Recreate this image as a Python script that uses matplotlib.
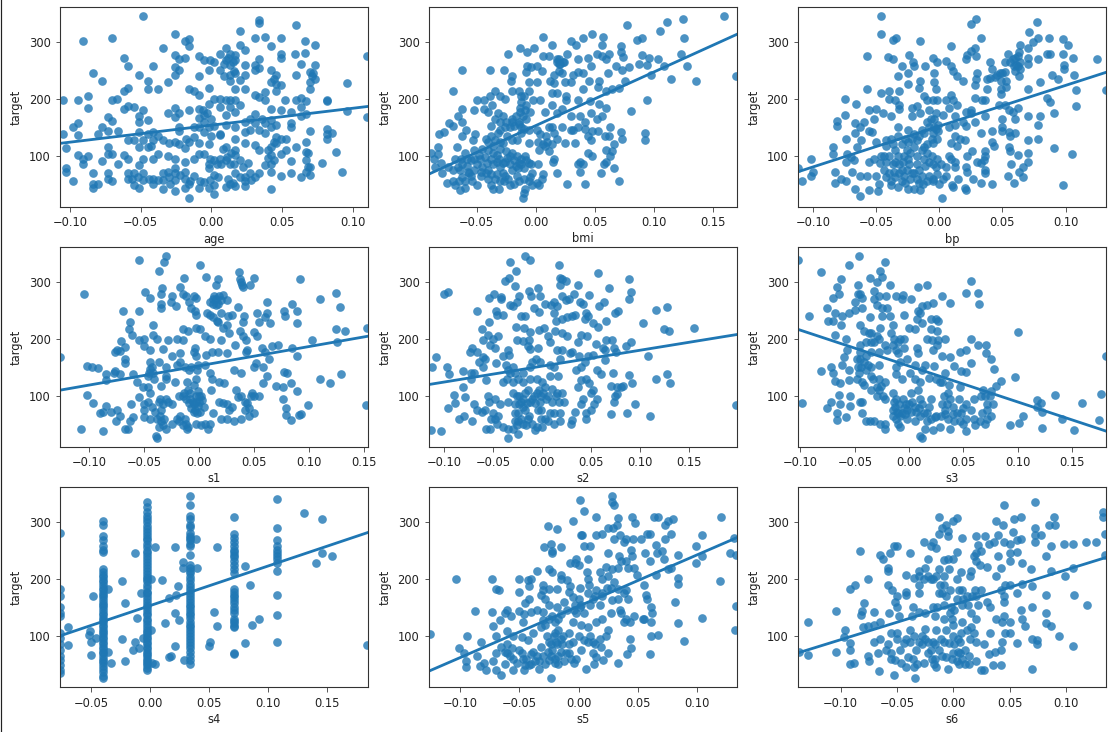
import matplotlib
matplotlib.use('Agg')
import matplotlib.pyplot as plt
from matplotlib.lines import Line2D
from matplotlib.ticker import MultipleLocator

# points are (x in thousandths, target)
age_pts = [(-48,346),(-91,302),(-70,308),(-62,273),(-59,258),(-84,245),(-77,231),(-87,205),(-94,199),(-105,199),(-87,185),(-73,168),(-70,162),(-67,200),(-70,199),(-62,215),(-59,220),(-51,242),(-45,231),(-41,258),(-45,218),(-38,218),(-34,290),(-26,315),(-19,303),(-16,306),(-16,293),(-26,277),(-23,271),(-19,273),(-26,257),(-26,242),(-23,251),(-31,230),(-9,275),(-5,269),(-1,268),(2,265),(-2,251),(-9,240),(-16,217),(-12,214),(-9,207),(-2,220),(10,290),(6,280),(13,280),(17,277),(17,268),(10,268),(13,260),(6,251),(13,242),(17,245),(13,232),(20,320),(20,295),(24,286),(24,260),(31,308),(38,310),(34,339),(34,334),(42,293),(49,308),(60,330),(66,302),(73,295),(59,280),(66,281),(49,280),(49,273),(63,262),(73,260),(70,248),(73,236),(60,242),(70,230),(70,218),(110,275),(96,229),(82,199),(82,196),(110,168),(96,179),(60,199),(63,201),(67,196),(63,186),(52,199),(42,251),(46,242),(46,227),(46,215),(49,224),(38,213),(31,207),(34,204),(38,199),(24,242),(24,218),(20,233),(17,218),(31,260),(31,251),(34,271),(34,254),
(2,200),(6,200),(10,199),(13,199),(17,199),(6,186),(20,189),(13,186),(17,177),(10,172),(-2,192),(-9,183),(-5,172),(-9,166),(-5,160),(-9,151),(-2,151),(2,152),(10,154),(17,151),(-26,185),(-23,175),(-31,175),(-26,169),(-16,180),(-23,151),(-23,144),(-48,180),(-51,171),(-51,160),(-45,163),(-55,186),(-59,187),(-62,183),(-41,142),(-45,139),(-51,142),(-66,144),(-73,144),(-77,151),(-80,138),(-94,158),(-98,151),(-94,136),(-105,138),(-103,113),
(-59,128),(-55,128),(-48,128),(-41,128),(-34,128),(-45,116),(-51,116),(-73,116),(-73,104),(-70,104),(-94,101),(-87,100),(-91,95),(-91,86),(-77,91),(-66,86),(-62,101),(-59,95),(-51,84),(-48,95),(-41,95),(-38,104),(-31,100),(-26,95),(-26,125),(-23,120),(-19,113),(-16,125),(-9,123),(-2,120),(10,116),(17,110),(24,122),(31,119),(34,110),
(-2,86),(2,92),(6,95),(10,92),(13,86),(17,101),(20,92),(4,86),(7,86),(11,98),(-5,104),(-9,104),(-12,95),(-19,89),(-2,78),
(-103,78),(-103,72),(-98,55),(-84,70),(-84,51),(-84,43),(-80,51),(-73,69),(-73,60),(-70,55),(-59,69),(-55,70),(-59,60),(-55,48),(-51,43),(-48,69),(-48,57),(-41,51),(-41,60),(-34,69),(-34,57),(-34,41),(-26,78),(-26,69),(-26,57),(-26,38),(-19,72),(-19,60),(-19,43),(-16,51),(-16,25),(-12,64),(-9,43),(-5,54),(-2,43),(2,66),(2,48),(2,32),(10,45),(13,51),(17,69),(17,47),(24,63),(24,47),(27,69),(31,63),(34,69),(42,41),(42,72),(38,84),(42,86),(49,64),(56,70),(56,91),(63,63),(67,72),(70,66),(70,81),(67,92),(67,107),(67,125),(70,143),(78,88),(88,107),(92,71),(82,130),(82,148),(85,140),(82,139),
(46,133),(49,130),(53,130),(46,122),(42,116),(42,101),(49,104),(53,110),(60,116),(56,157),(56,151),(63,171),(67,173),(56,177),(49,180),(42,183),(42,163),(38,157),(31,157),(31,174),(27,145),(34,145),(24,142),(17,129),(6,136),(6,139),(-5,142),(-12,133),
(-30,62),(-29,50),(-22,66),(-15,55),(-8,56),(-1,58),(5,62),(12,60),(15,52),(20,62),(24,55),(28,58),(-44,60),(-38,58),(-31,72),(-52,62),(-56,60),(40,96),(44,92),(40,110),(44,125),(38,140),(42,150),(46,155),(36,165),(27,165),(24,160),(0,165),(-3,175),(-6,180),(-12,150),(-18,130),(-30,122),(-38,135),(-43,118),(0,135),(8,112),(14,105),(16,85),(-1,95),(22,80),(26,88),(44,235),(42,230),(71,240),(72,245),(68,105),(68,80),(9,262),(12,272),(15,265),(16,250),(9,240)]

bmi_pts = [(160,346),(136,232),(170,241),(128,258),(126,308),(125,340),(123,280),(111,335),(105,320),(115,236),(109,258),(104,270),(98,242),(96,273),(94,260),(94,199),(93,140),(93,128),(90,308),(90,278),(86,304),(88,262),(77,331),(79,256),(76,232),(81,179),(72,293),(72,283),(72,142),(71,55),(73,130),(73,251),(74,274),(68,258),(66,78),(71,220),(65,218),(60,215),(63,150),(62,135),(66,120),(65,108),(60,110),(63,100),(60,90),(58,85),(55,70),(59,135),(56,275),(60,270),(57,310),(56,295),(62,280),(61,245),(48,315),(40,308),(30,303),(34,295),(27,280),(23,265),(20,270),(18,265),(36,270),(47,258),(44,272),(52,280),(45,232),(54,232),(53,222),(40,218),(40,245),(36,248),(32,243),(25,230),(16,243),(20,250),(12,232),(14,210),
(6,310),(14,295),(-13,290),(-23,280),(-7,282),(-1,290),(6,275),(11,276),(-4,256),(-7,258),(-8,247),(1,258),(5,250),(-20,240),(-21,232),(-27,251),(-39,251),(-62,251),(-70,215),(-6,230),(1,230),(-20,215),(-34,215),(-14,215),(-6,215),(-44,199),(-30,205),(-26,200),(-39,206),(-37,190),(-12,205),(-12,195),(-8,190),(-2,199),(4,198),(-9,180),(-13,178),(-5,178),(8,178),(14,190),(18,210),(16,228),(18,175),(22,182),(26,198),(36,198),(46,196),(54,192),(60,185),(56,170),(52,165),(47,175),(42,160),(38,170),(30,170),
(-50,199),(-52,180),(-62,183),(-44,182),(-40,178),(-66,170),(-62,160),(-73,158),(-70,153),(-82,138),(-78,142),(-59,145),(-62,135),(-51,138),(-53,128),(-83,115),(-67,115),(-38,153),(-34,165),(-32,175),(-28,170),(-25,160),(-20,165),(-17,170),(-18,152),(-22,150),(-14,156),(-12,150),(-6,145),(1,145),(4,138),(9,135),(11,150),(16,140),(18,130),(14,120),(25,122),(33,122),(30,145),(36,150),(42,147),(44,135),(48,143),(53,143),(47,128),(32,145),(-32,140),(-38,135),(-40,125),(-34,128),(-28,122),(-16,128),(-6,122),(2,125),(8,118),(3,110),(11,108),(16,95),(15,90),(18,70),(27,51),(42,51),(44,105),(48,100),(38,90),(36,85),(40,85),(38,72),
(-89,105),(-83,103),(-86,95),(-80,88),(-85,80),(-79,70),(-75,52),(-70,75),(-74,80),(-68,95),(-60,105),(-52,110),(-45,112),(-40,110),(-36,105),(-30,112),(-25,108),(-20,105),(-16,100),(-12,95),(-8,92),(-4,85),(2,85),(-63,95),(-62,85),(-64,75),(-62,62),(-60,55),(-70,55),(-68,48),(-64,40),(-60,43),(-50,48),(-52,75),(-50,85),(-47,95),(-45,80),(-42,70),(-40,75),(-36,85),(-33,90),(-30,80),(-28,70),(-26,90),(-22,85),(-20,75),(-17,82),(-14,88),(-10,78),(-34,60),(-38,48),(-36,42),(-31,42),(-27,55),(-22,48),(-18,50),(-14,55),(-10,60),(-6,55),(-3,48),(-9,42),(-10,35),(-11,25),(5,60),(6,68),(-3,70),(-5,62),(3,48),(1,53),(-40,60),(-46,65),(-33,68),(-55,65),(-57,72),(-66,80),
(-55,92),(-58,82),(-56,70),(-48,102),(-43,98),(-41,88),(-38,95),(-33,102),(-31,95),(-28,88),(-24,96),(-22,100),(-18,92),(-15,78),(-12,85),(-9,100),(-6,88),(-30,125),(-36,118),(-42,130),(-24,135),(-20,128),(-26,150),(-30,160),(-30,145),(-23,60),(-26,65),(-30,55),(-16,65),(-65,55),(-54,55),(-58,95),(-52,95),(-46,72),(-38,68),(-20,160),(-8,165),(-11,170),(-14,160),(-10,205),(-13,185),(18,270),(21,262),(22,245),(26,205),(30,230),(6,120),(10,125),(22,150),(14,150),(24,265),(20,262),(-10,148),(-12,140)]

bp_pts = [(-46,346),(-46,315),(-37,304),(-34,308),(-15,302),(9,293),(25,332),(29,340),(33,308),(28,290),(25,285),(22,278),(21,270),(29,275),(-57,275),(-41,274),(-37,271),(-24,278),(-21,265),(-30,258),(-20,258),(-11,258),(-25,246),(-33,241),(-5,272),(-2,266),(5,267),(9,258),(11,250),(14,240),(19,232),(-4,245),(-4,230),(-15,232),(-16,220),(-3,218),(-25,226),(-57,218),(-46,211),(-40,214),(-32,214),(-40,200),(-35,199),(-32,190),(-32,182),(-75,200),(-66,192),(-75,172),(-81,162),(-81,152),(-56,180),(-50,182),(-45,175),(-38,170),(-52,165),(-60,160),(-67,157),(-63,150),(-67,140),(-56,143),(-53,142),(-74,130),(-62,128),(-50,125),(-42,118),(-84,115),(-65,115),(-84,103),(-73,103),(-70,98),(-74,90),(-68,92),(-102,95),(-112,78),(-100,72),(-109,55),(-102,65),(-83,71),(-83,52),(-78,60),(-74,55),(-69,72),(-67,42),(-63,30),(-63,65),(-57,65),(-56,40),(-49,38),(-48,50),(-50,65),(-56,90),(-52,95),(-46,100),
(-12,205),(-10,199),(-5,199),(-2,198),(5,199),(9,207),(11,198),(14,190),(-22,185),(-18,188),(-15,175),(-22,170),(-8,180),(-3,175),(3,172),(8,185),(12,170),(21,178),(25,180),(28,202),(34,199),(36,198),(36,170),(28,160),(21,152),(12,155),(8,150),(-4,165),(-8,150),(-3,148),(-5,140),(-1,143),(-12,140),(-16,135),(-20,138),(-25,145),(-33,150),(-33,135),(-38,130),(-42,128),(-25,125),(-20,115),(-12,115),(-5,122),(9,122),(12,135),(16,130),(20,128),(14,118),(33,140),(42,143),(42,125),(43,118),(55,142),(56,135),(55,115),(56,108),(62,102),(57,85),(54,65),(59,52),(63,72),(66,80),(66,62),(42,51),(33,53),(36,70),(36,75),(36,100),(36,108),(30,90),(33,88),(35,92),(22,100),(26,108),(27,60),(22,72),(21,80),(20,43),(21,40),
(-40,100),(-35,90),(-36,72),(-40,70),(-38,55),(-38,48),(-33,45),(-30,55),(-27,52),(-25,42),(-20,42),(-16,52),(-15,40),(-10,55),(-5,60),(-5,55),(0,50),(2,25),(5,65),(5,80),(10,48),(11,45),(12,80),(15,60),(8,100),(9,95),(12,90),(-28,100),(-25,95),(-24,85),(-26,75),(-22,70),(-18,85),(-16,75),(-12,95),(-10,105),(-8,90),(-5,85),(-3,80),(-30,75),(-32,85),(-37,85),
(40,265),(42,252),(48,245),(50,245),(40,237),(38,235),(30,245),(29,235),(28,225),(38,218),(49,231),(53,232),(53,222),(49,218),(49,208),(47,190),(52,190),(55,180),(58,178),(60,165),(62,185),(50,165),(50,150),(50,143),(60,140),(54,280),(52,265),(58,270),(62,275),(63,282),(64,295),(59,258),(62,258),(64,252),(63,240),(70,262),(70,272),(70,290),(71,318),(74,300),(78,307),(77,335),(87,308),(78,270),(85,280),(88,280),(89,242),(98,305),(102,295),(98,280),(99,260),(99,253),(94,236),(106,273),(107,243),(125,270),(132,216),(108,216),(108,188),(91,175),(88,195),(85,202),(80,230),(70,217),(80,170),(78,155),(70,170),(78,130),(70,128),(91,113),(105,103),(98,49),(70,105),(70,90),
(-42,90),(-44,75),(-42,62),(-35,62),(-32,70),(-28,65),(-29,90),(-26,110),(-27,130),(-22,130),(-23,105),(-23,60),(-20,70),(-18,100),(-14,110),(-14,65),(-11,82),(-8,65),(-6,100),(-2,95),(-2,68),(1,85),(3,60),(-10,120),(-18,60),(-13,50),(-35,110),(-33,100),(-44,100),(-37,120),(-30,120),(-47,88),(-4,150),(-6,130),(-2,130),(-7,165),(-1,155),(-18,128),(-14,145),(-10,160),(61,260),(60,250),(56,265),(64,265),(60,272),(52,248),(46,242),(44,238),(19,160),(25,175)]

s1_pts = [(-55,340),(-37,320),(-32,335),(-30,346),(1,330),(6,310),(-14,308),(-17,292),(17,305),(15,295),(36,318),(37,305),(38,300),(39,295),(40,292),(50,308),(46,295),(92,306),(125,281),(110,270),(128,257),(-105,279),(-45,272),(-49,282),(-35,280),(-34,290),(-35,255),(-35,262),(-25,275),(-26,265),(-21,258),(-15,280),(-12,275),(-5,275),(-3,272),(-9,265),(-7,255),(-4,250),(-3,242),(-69,250),(-55,250),(-63,230),(-64,218),(-61,208),(-42,224),(-3,220),(-15,218),(-10,215),(1,217),(10,265),(13,270),(15,260),(18,275),(22,277),(25,268),(7,245),(10,243),(13,238),(17,230),(22,220),(26,240),(30,243),(25,225),(27,210),(35,257),(41,240),(40,230),(37,215),(40,205),(43,198),(53,245),(62,265),(55,230),(62,246),(60,238),(65,228),(77,250),(78,240),(85,262),(89,250),(89,228),(125,217),(133,215),(153,220),(103,199),(126,195),(85,185),(89,170),(72,190),(66,188),(60,178),(57,184),(64,165),(58,150),(50,150),(52,158),(53,205),(50,212),
(-72,179),(-77,178),(-75,180),(-71,197),(-68,186),(-68,165),(-68,157),(-55,198),(-50,200),(-50,188),(-45,180),(-42,207),(-38,200),(-33,182),(-28,198),(-20,200),(-15,198),(-17,175),(-25,170),(-17,160),(-5,178),(-4,185),(-3,170),(5,205),(10,200),(6,172),(12,178),(20,198),(17,178),(25,175),(33,190),(32,145),(38,140),(43,178),(44,180),(-45,160),(-43,150),(-42,140),(-46,140),(-37,160),(-30,135),(-20,155),(-13,150),(-7,150),(-2,145),(5,155),(10,140),(12,130),(18,125),(23,122),(-127,169),(-102,152),(-98,150),(-92,149),(-85,138),(-85,128),(-78,140),(-77,143),(-72,138),(-60,139),(-57,125),(-51,115),(-47,115),(-35,118),(-30,130),(-22,125),(-11,125),(-5,120),(70,118),(76,116),(84,122),(77,142),(80,140),(62,135),(58,122),(110,130),(119,122),(129,138),(152,84),(89,108),(76,95),(79,78),(79,66),(84,58),(91,67),(93,68),(99,84),
(-102,102),(-97,88),(-85,83),(-90,70),(-88,71),(-80,72),(-75,75),(-72,65),(-76,55),(-68,42),(-65,42),(-62,85),(-63,55),(-60,63),(-55,98),(-50,85),(-50,75),(-50,62),(-45,105),(-43,80),(-37,90),(-35,75),(-38,60),(-37,45),(-39,30),(-38,25),(-32,60),(-30,95),(-25,85),(-25,50),(-20,60),(-17,65),(-15,100),(-12,50),(-11,42),(-10,110),(-8,95),(-5,85),(-3,100),(-4,75),(0,90),(-2,70),(2,100),(4,80),(-3,50),(2,48),(5,50),(10,50),(8,42),(11,110),(13,70),(18,90),(20,60),(25,85),(25,60),(30,80),(32,55),(38,100),(34,110),(38,60),(42,90),(45,65),(48,105),(50,70),(50,100),(55,100),(45,78),(-108,41),(-88,38),
(-8,105),(-6,90),(-1,82),(-3,90),(-5,72),(-7,78),(-1,108),(1,72),(0,100),(3,92),(-9,88),(-12,95),(-14,105),(-18,100),(-28,90),(-33,85),(-36,95),(-35,55),(-33,48),(-30,42),(-36,65),(-40,72),(-45,60),(-47,90),(-18,55),(-15,48),(-13,60),(-10,45),(-30,150),(-45,148),(-47,135),(-41,130),(-3,130),(-1,155),(-9,145),(15,270),(17,262),(13,262),(20,268),(14,275),(16,232),(20,245),(47,100),(44,88),(42,75),(35,98),(22,88),(27,75)]

s2_pts = [(-18,346),(-12,340),(-33,335),(-27,320),(-34,308),(-38,302),(-28,294),(17,330),(18,308),(20,305),(24,302),(18,295),(57,316),(37,295),(48,278),(68,290),(89,306),(91,282),(89,270),(-100,279),(-96,282),(-54,273),(-49,280),(-42,274),(-42,270),(-24,275),(-14,285),(-11,275),(-4,290),(-2,275),(-33,260),(-30,258),(-26,265),(-8,255),(-3,247),(-40,243),(-47,250),(-46,243),(-67,250),(-54,230),(-61,218),(-27,222),(-19,219),(-12,213),(-3,216),(2,220),(-22,240),(-18,240),(3,262),(9,260),(12,265),(15,258),(12,245),(14,232),(20,235),(25,238),(30,240),(33,242),(24,268),(20,275),(27,270),(32,279),(39,265),(42,262),(45,245),(47,240),(44,235),(52,228),(57,222),(58,258),(63,265),(65,232),(74,246),(77,249),(103,228),(116,252),(127,257),(124,217),(129,215),(155,220),(91,195),(86,187),(71,198),(65,198),(62,185),(64,180),(64,163),(75,178),(73,185),(55,192),(46,205),(40,208),(37,195),(30,178),(25,205),(20,210),(13,215),(-60,198),(-55,208),(-50,200),(-53,190),(-48,185),(-45,205),(-35,180),(-34,172),(-26,199),(-20,197),(-14,198),(-15,188),(-12,182),(-4,185),(6,205),(8,195),(-97,150),(-95,138),(-108,169),(-113,151),(-81,143),(-73,140),(-70,140),(-73,130),(-65,160),(-60,168),(-60,150),(-72,185),(-74,178),(-67,178),(-58,165),(-47,157),(-37,155),(-30,150),(-33,140),(-25,130),(-20,140),(-10,160),(-12,150),(-6,165),(-2,160),(8,155),(12,150),(15,180),(20,180),(18,165),(28,175),(38,170),(40,150),(34,145),(47,170),(52,172),(56,145),(60,138),(72,140),(70,118),(76,115),(80,115),(92,122),(89,137),(108,170),(116,130),(127,138),(130,122),(74,99),(73,90),(76,103),(82,117),
(-57,128),(-81,115),(-79,98),(-90,102),(-89,88),(-96,78),(-85,60),(-80,65),(-72,55),(-70,85),(-67,75),(-62,72),(-58,75),(-55,100),(-54,90),(-48,95),(-43,85),(-52,60),(-46,50),(-45,65),(-57,42),(-53,42),(-35,90),(-30,105),(-26,100),(-24,85),(-20,95),(-15,110),(-12,90),(-8,100),(-3,110),(-2,90),(3,115),(6,100),(10,90),(15,105),(20,105),(22,90),(-25,70),(-22,60),(-18,75),(-15,60),(-10,50),(-5,45),(-7,40),(0,45),(-1,75),(3,60),(8,70),(12,50),(18,55),(18,70),(30,58),(29,50),(33,72),(40,85),(42,95),(45,70),(45,60),(50,75),(53,85),(56,95),(52,110),(36,115),(40,128),(48,122),(70,68),(87,70),(95,85),(110,65),(198,84),(-114,40),(-103,38),(-35,25),(-25,32),(-35,42),(-28,55),
(-28,85),(-24,100),(-22,90),(-20,80),(-18,105),(-16,88),(-14,65),(-25,55),(-20,50),(-17,48),(-28,70),(-26,48),(-30,42),(-10,95),(-5,105),(-7,88),(-1,100),(1,105),(4,95),(-4,75),(-1,60),(6,55),(12,70),(14,100),(17,90),(10,112),(-40,125),(-36,130),(-30,125),(-35,145),(-28,140),(-20,125),(-12,130),(-5,130),(0,125),(8,135),(16,135),(45,130),(50,105),(44,160),(-40,170),(-50,70),(-48,60),(-40,45)]

s3_pts = [(-102,340),(-46,346),(-55,331),(-81,318),(-27,320),(-22,336),(-36,308),(-30,300),(-25,310),(-63,306),(-66,292),(-47,295),(-18,295),(-32,285),(-65,280),(-70,272),(-47,280),(-43,272),(-32,270),(-21,275),(-12,275),(-6,278),(-7,270),(2,270),(8,292),(16,295),(30,275),(38,264),(22,264),(16,260),(12,258),(57,302),(63,281),(52,281),(64,262),(-92,241),(-76,255),(-75,232),(-70,232),(-68,245),(-62,240),(-63,225),(-55,245),(-50,252),(-43,255),(-36,238),(-30,260),(-25,255),(-20,255),(-18,240),(-5,242),(7,235),(8,250),(10,245),(12,228),(20,235),(25,235),(27,232),(-68,207),(-58,200),(-45,225),(-42,215),(-35,210),(-30,205),(-27,220),(-15,225),(-17,210),(-8,200),(0,220),(5,218),(20,218),(26,215),(27,198),(33,200),(16,200),(21,198),(100,213),(57,200),(63,190),(71,190),(52,180),(47,178),(22,180),(26,190),(-45,190),(-40,195),(-35,178),(-28,178),(-22,190),(-15,190),(-10,195),(-5,185),(7,185),(8,175),(-45,178),(-48,165),(-40,170),(-57,180),(-60,168),(-62,155),(-55,145),(-47,150),(-40,145),(-35,150),(-28,155),(-12,150),(-8,160),(-2,165),(5,155),(12,145),(15,155),(23,152),(30,170),(38,168),(41,152),(48,143),(52,142),(57,158),(71,175),(75,165),(78,148),
(-81,143),(-72,150),(-70,140),(-68,127),(-64,123),(-55,128),(-48,130),(-43,125),(-35,135),(-28,130),(-22,125),(-12,138),(-7,130),(1,140),(5,130),(10,125),(18,132),(25,130),(28,125),(33,140),(37,120),(47,115),(68,110),(75,108),(80,118),(85,127),(97,133),(121,87),(118,92),(118,80),(122,72),(134,102),(141,60),(152,40),(159,87),(175,58),(177,103),(181,170),(122,43),(105,65),(101,52),(93,48),(-99,88),(-76,78),(-72,90),(-65,102),(-64,85),(-66,70),(-66,58),(-58,62),(-54,100),(-54,82),(-45,90),(-43,90),(-43,70),(-40,55),(-36,55),(-32,55),(-27,50),(-22,50),(-22,42),(-35,110),(-30,100),(-28,110),(-22,95),
(-15,105),(-14,90),(-15,75),(-12,60),(-10,50),(-8,45),(-6,95),(-3,85),(-2,75),(2,105),(3,90),(5,80),(5,55),(8,110),(10,95),(10,30),(12,85),(14,70),(15,42),(12,25),(16,55),(20,95),(22,40),(25,65),(28,45),(29,65),(30,85),(32,100),(33,75),(36,60),(38,95),(38,42),(40,80),(41,55),(44,70),(46,95),(48,70),(50,50),(52,85),(52,60),(52,38),(57,75),(60,95),(60,60),(61,48),(65,55),(66,100),(67,70),(70,50),(72,60),(72,85),(74,100),(75,65),(77,85),(-11,72),(-7,70),(-2,60),(6,72),(18,80),
(-13,80),(-10,70),(-9,85),(-5,78),(-12,95),(-8,65),(-4,68),(-15,65),(0,85),(2,72),(9,78),(10,65),(16,70),(20,60),(24,62),(33,68),(35,85),(40,68),(47,55),(50,78),(-45,165),(-44,150),(-42,160),(-46,140),(-42,120),(-38,155),(-33,130),(-30,115),(-26,118),(-32,195),(-35,195),(-37,210),(-28,200),(-20,180),(-12,180),(-14,200),(-10,175),(-5,200),(-50,265),(-45,280),(-28,275),(-25,240),(-24,100),(30,125),(36,105),(70,100),(72,75)]

# s4 sits on a few discrete levels
s4_levels = [-39.5, -2.6, 34.3, 71.2, 108.1]
s4_level_y = [[25,30,37,42,47,52,56,60,64,69,72,77,81,86,90,94,98,103,107,111,115,119,124,128,132,137,141,145,150,154,158,163,168,172,176,180,185,190,194,199,203,207,212,218,248,252,258,268,275,295,302],
              [40,44,48,52,55,60,64,68,72,77,81,85,90,94,98,103,107,110,116,121,126,130,136,141,146,151,155,160,165,170,175,178,185,190,196,200,204,209,214,219,225,230,235,240,245,250,256,262,268,273,278,283,288,294,300,306,311,318,326,336],
              [50,58,65,72,78,84,90,94,100,105,110,115,120,125,131,136,140,145,150,155,160,165,170,175,180,186,192,198,204,210,215,220,225,242,258,262,268,272,276,281,292,296,306,311,330,346],
              [68,70,115,118,122,126,130,140,145,150,158,164,168,172,178,182,210,218,225,232,238,243,248,252,258,265,272,280,310],
              [90,136,172,215,228,235,240,245,252,258,268,290,341]]
s4_pts = [(-76,35),(-76,40),(-76,48),(-76,58),(-76,65),(-76,75),(-76,85),(-76,97),(-76,105),(-76,135),(-76,140),(-76,150),(-76,170),(-76,183),(-76,281),(-70,115),(-70,84),(-52,102),(-51,108),(-50,90),(-46,97),(-50,67),(-48,170),(-36,182),(-33,52),(-36,72),(-24,197),(-24,95),(-21,55),(-21,158),(-14,75),(-13,90),(-13,246),(-11,132),(-9,78),(-8,175),(-6,97),(1,110),(1,200),(2,52),(4,257),(4,50),(10,198),(13,123),(16,62),(16,167),(18,65),(21,257),(21,83),(21,140),(22,172),(24,188),(25,128),(28,219),(28,230),(29,57),(39,270),(40,219),(50,82),(51,90),(54,142),(57,118),(57,257),(81,88),(81,223),(85,190),(87,120),(93,129),(131,317),(141,228),(146,306),(146,246),(155,241),(184,84)]

s5_pts = [(-125,104),(-103,200),(-73,200),(-50,200),(-67,180),(-70,183),(-87,143),(-73,142),(-101,78),(-94,100),(-82,90),(-97,70),(-95,55),(-95,45),(-86,65),(-83,47),(-80,52),(-78,40),(-72,55),(-70,40),(-65,32),(-62,50),(-55,40),(-46,40),(-40,50),(-33,42),(-23,25),(-17,50),(6,42),(13,50),(21,58),(33,53),(41,68),(60,68),(25,70),(44,78),(43,95),(61,100),(67,102),(89,91),(84,123),(104,132),(133,152),(132,110),(119,196),(84,192),(84,202),(81,160),(99,229),(104,240),(99,258),(104,277),(84,242),(131,273),(128,246),(133,242),(120,310),(80,305),(75,302),(67,310),(64,310),(73,295),(78,280),(73,270),(65,260),(60,280),(58,280),(53,270),(56,245),(60,232),(66,245),(70,250),(72,235),(75,218),(78,220),(65,208),(55,190),(58,165),(57,172),(61,150),(62,140),(55,130),(61,125),(46,270),(40,270),(45,310),(48,298),(33,308),(32,295),(28,346),(28,335),(30,330),(1,340),(5,320),(-5,302),(15,310),(-26,293),(-18,288),(-15,257),(-29,257),(-23,262),(-22,245),(-22,250),(2,277),(3,277),(5,258),(10,258),(15,278),(20,280),(25,290),(29,290),(30,270),(35,278),(38,265),(44,252),(36,232),(40,232),(45,240),(47,220),(42,220),(49,208),(34,240),(25,245),(23,222),(28,218),(33,220),(8,236),(-3,228),(-7,228),(-2,235),(0,225),(-25,218),(-22,212),(-15,208),(-15,200),(-10,198),(-7,188),(-35,215),(-40,200),(-43,198),(-42,188),(-50,178),(-42,165),(-45,158),(-30,190),(-30,180),(-25,182),(-18,182),(-8,178),(1,185),(7,212),(8,200),(9,190),(18,212),(20,200),(25,205),(30,195),(27,185),(33,183),(38,175),(40,180),(42,165),(15,180),(20,175),(12,165),(28,163),(-32,172),(-28,165),(-25,155),(-18,150),(-12,160),(-5,168),(-3,155),(1,150),(5,140),(10,155),(18,155),(-60,145),(-57,135),(-62,140),(-50,143),(-46,138),(-40,142),(-35,145),(-47,125),(-30,128),(-25,130),(-20,125),(-15,138),(-10,145),(-5,125),(2,120),(8,115),(15,125),(20,130),(25,110),(27,140),(35,145),(38,125),(43,125),(47,135),(54,130),(-72,118),(-66,128),(-70,100),(-60,108),(-55,100),(-48,98),(-43,92),(-38,105),(-32,115),(-27,100),(-25,90),(-20,105),(-15,95),(-8,105),(-5,90),(0,100),(5,92),(12,90),(18,95),(23,100),
(-70,70),(-65,80),(-60,85),(-60,70),(-55,60),(-50,75),(-47,60),(-45,48),(-40,68),(-37,55),(-32,80),(-30,65),(-25,58),(-22,75),(-20,60),(-18,85),(-15,72),(-12,55),(-8,70),(-4,52),(-8,85),(2,75),(12,70),(15,62),
(-62,72),(-58,65),(-56,78),(-52,52),(-48,70),(-44,60),(-42,48),(-38,72),(-35,65),(-33,55),(-28,50),(-26,72),(-23,85),(-21,100),(-19,90),(-17,65),(-14,85),(-11,70),(-6,60),(-2,60),(-23,65),(-20,52),(-17,110),(-13,100),(-28,120),(-22,135),(-30,142),(-17,130),(-4,145),(0,165),(2,155),(-2,140),(8,175),(14,170),(20,170),(24,185),(33,165),(36,140),(40,130),(10,100),(14,85),(19,80),(8,90)]

s6_pts = [(-137,72),(-129,125),(-129,67),(-104,143),(-104,71),(-96,110),(-97,98),(-92,88),(-92,75),(-92,51),(-88,52),(-92,182),(-87,189),(-83,250),(-82,136),(-81,143),(-79,158),(-80,115),(-76,118),(-76,200),(-75,55),(-76,65),(-70,120),(-70,142),(-65,125),(-70,90),(-65,95),(-67,70),(-66,38),(-62,235),(-65,243),(-58,220),(-58,215),(-58,190),(-53,258),(-50,258),(-56,245),(-54,180),(-52,160),(-50,170),(-50,150),(-57,140),(-48,135),(-42,208),(-42,178),(-42,172),(-38,245),(-36,150),(-37,135),(-38,110),(-35,100),(-53,32),(-34,25),(-55,105),(-50,95),(-58,85),(-55,70),(-60,75),(-52,58),(-46,52),(-42,45),(-35,45),(-36,60),(-33,75),(-30,90),(-30,215),(-35,202),(-30,190),(-30,175),(-30,142),(-26,265),(-25,220),(-22,235),(-20,258),(-20,200),(-15,255),(-18,265),(-25,140),(-25,112),(-25,95),(-26,53),(-20,75),(-22,90),(-18,150),(-15,205),(-13,310),(-13,280),(-13,218),(-16,135),(-15,110),(-16,85),(-17,50),(-15,45),(-10,290),(-8,233),(-6,295),(-5,285),(-5,275),(-5,235),(-4,218),(-8,190),(-10,175),(-8,155),(-8,130),(-8,90),(-6,62),(-5,42),(0,235),(0,302),(3,308),(3,247),(3,200),(3,165),(1,145),(0,120),(0,100),(1,85),(0,70),(3,55),(8,272),(7,213),(8,180),(8,155),(8,125),(7,105),(6,90),(6,70),(10,50),(12,170),(15,205),(16,215),(18,240),(20,245),(20,232),(20,170),(16,140),(16,115),(15,95),(14,65),(20,275),(25,250),(22,260),(24,225),(25,180),(22,155),(20,130),(20,90),(20,55),(25,40),(27,40),(27,85),(28,275),(30,222),(32,262),(30,160),(33,150),(33,105),(32,68),(35,48),(36,265),(37,72),(38,303),(38,205),(38,130),(43,125),(40,278),(40,240),(42,220),(42,180),(43,90),(42,75),(42,48),(45,330),(44,295),(45,265),(46,190),(45,170),(45,160),(45,135),(46,105),(50,262),(50,245),(50,232),(50,190),(50,105),(50,125),(54,305),(53,282),(57,268),(57,247),(57,175),(57,88),(60,310),(60,270),(61,228),(61,192),(60,145),(61,130),(64,118),(69,218),(70,188),(70,150),(70,95),(70,41),(73,336),(73,290),(73,265),(73,277),(78,277),(74,92),(74,85),(82,240),(85,295),(87,258),(87,215),(82,172),(82,140),(82,123),(87,118),(89,310),(90,296),(94,99),(98,262),(99,205),(106,262),(106,220),(107,172),(106,82),(118,265),(119,154),(127,265),(133,318),(133,310),(135,280),(135,243),
(-47,75),(-44,88),(-40,62),(-38,90),(-32,50),(-28,85),(-22,70),(-19,60),(-18,90),(-13,75),(-11,95),(-10,65),(-6,110),(-3,140),(-2,150),(-1,130),(-1,60),(4,95),(4,72),(5,50),(8,60),(10,75),(12,110),(13,155),(14,50),(17,170),(18,105),(19,180),(-14,150),(-12,190),(-8,205),(-6,170),(-3,180),(5,180),(9,165),(-22,205),(-26,200),(-18,200),(-13,175),(-30,205),(-42,95),(-50,105),(-55,60),(-28,100),(-16,60),(-4,88)]

names = ['age', 'bmi', 'bp', 's1', 's2', 's3', 's4', 's5', 's6']
panel_pts = [age_pts, bmi_pts, bp_pts, s1_pts, s2_pts, s3_pts, s4_pts, s5_pts, s6_pts]
x_limits = [(-0.107, 0.1107), (-0.0903, 0.1706), (-0.112, 0.132),
            (-0.1268, 0.1539), (-0.1156, 0.1988), (-0.1023, 0.1812),
            (-0.0764, 0.1852), (-0.1261, 0.1336), (-0.1378, 0.1356)]
# fitted line height at the left and right edge of each panel
line_left = [122, 68, 72, 110, 120, 217, 100, 38, 70]
line_right = [187, 314, 247, 205, 208, 38, 282, 273, 238]

blue = '#1f77b4'
W, H = 1114, 732

plt.rcParams['font.size'] = 11.5
fig, axes = plt.subplots(3, 3, figsize=(W / 72, H / 72), dpi=72)
fig.subplots_adjust(left=60 / W, right=1106 / W, top=1 - 7 / H, bottom=1 - 687 / H,
                    wspace=61 / 308, hspace=40 / 200)

for i, ax in enumerate(axes.flat):
    xs = [p[0] / 1000 for p in panel_pts[i]]
    ys = [p[1] for p in panel_pts[i]]
    if names[i] == 's4':
        for level, vals in zip(s4_levels, s4_level_y):
            xs += [level / 1000] * len(vals)
            ys += vals
    ax.scatter(xs, ys, s=75, color=blue, alpha=0.8, linewidths=0)
    ax.plot(x_limits[i], [line_left[i], line_right[i]], color=blue, lw=2.8)
    ax.set_xlim(x_limits[i])
    ax.set_ylim(10, 362)
    ax.xaxis.set_major_locator(MultipleLocator(0.05))
    ax.set_yticks([100, 200, 300])
    ax.tick_params(length=4.5, pad=5, color='#333333', labelcolor='#222222')
    ax.set_xlabel(names[i], labelpad=3, color='#222222')
    ax.set_ylabel('target', labelpad=6, color='#222222')
    for s in ax.spines.values():
        s.set_color('#333333')
        s.set_linewidth(1.1)

# the screenshot has a dark edge on its left side
fig.add_artist(Line2D([0.0006, 0.0006], [0, 1], color='#222222', lw=1.2))

fig.savefig('out.png', dpi=72)
